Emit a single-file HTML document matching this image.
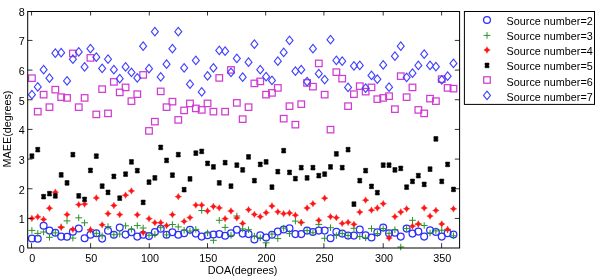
<!DOCTYPE html><html><head><meta charset="utf-8"><title>MAEE vs DOA</title>
<style>html,body{margin:0;padding:0;background:#fff}svg{display:block}text{font-family:"Liberation Sans",Arial,sans-serif;font-size:10.8px;fill:#000}</style></head><body>
<svg width="602" height="280" viewBox="0 0 602 280">
<rect width="602" height="280" fill="#fff"/>
<g><circle cx="31.90" cy="238.50" r="3.4" fill="none" stroke="#2c2cff" stroke-width="1.25"/><circle cx="37.75" cy="238.80" r="3.4" fill="none" stroke="#2c2cff" stroke-width="1.25"/><circle cx="43.61" cy="225.80" r="3.4" fill="none" stroke="#2c2cff" stroke-width="1.25"/><circle cx="49.47" cy="230.60" r="3.4" fill="none" stroke="#2c2cff" stroke-width="1.25"/><circle cx="55.32" cy="232.80" r="3.4" fill="none" stroke="#2c2cff" stroke-width="1.25"/><circle cx="61.17" cy="236.60" r="3.4" fill="none" stroke="#2c2cff" stroke-width="1.25"/><circle cx="67.03" cy="236.70" r="3.4" fill="none" stroke="#2c2cff" stroke-width="1.25"/><circle cx="72.88" cy="231.80" r="3.4" fill="none" stroke="#2c2cff" stroke-width="1.25"/><circle cx="78.74" cy="228.50" r="3.4" fill="none" stroke="#2c2cff" stroke-width="1.25"/><circle cx="84.59" cy="238.20" r="3.4" fill="none" stroke="#2c2cff" stroke-width="1.25"/><circle cx="90.45" cy="234.70" r="3.4" fill="none" stroke="#2c2cff" stroke-width="1.25"/><circle cx="96.31" cy="233.30" r="3.4" fill="none" stroke="#2c2cff" stroke-width="1.25"/><circle cx="102.16" cy="238.60" r="3.4" fill="none" stroke="#2c2cff" stroke-width="1.25"/><circle cx="108.02" cy="230.80" r="3.4" fill="none" stroke="#2c2cff" stroke-width="1.25"/><circle cx="113.87" cy="234.80" r="3.4" fill="none" stroke="#2c2cff" stroke-width="1.25"/><circle cx="119.72" cy="227.60" r="3.4" fill="none" stroke="#2c2cff" stroke-width="1.25"/><circle cx="125.58" cy="234.60" r="3.4" fill="none" stroke="#2c2cff" stroke-width="1.25"/><circle cx="131.44" cy="232.30" r="3.4" fill="none" stroke="#2c2cff" stroke-width="1.25"/><circle cx="137.29" cy="236.60" r="3.4" fill="none" stroke="#2c2cff" stroke-width="1.25"/><circle cx="143.15" cy="234.80" r="3.4" fill="none" stroke="#2c2cff" stroke-width="1.25"/><circle cx="149.00" cy="236.10" r="3.4" fill="none" stroke="#2c2cff" stroke-width="1.25"/><circle cx="154.86" cy="232.10" r="3.4" fill="none" stroke="#2c2cff" stroke-width="1.25"/><circle cx="160.71" cy="228.80" r="3.4" fill="none" stroke="#2c2cff" stroke-width="1.25"/><circle cx="166.57" cy="234.80" r="3.4" fill="none" stroke="#2c2cff" stroke-width="1.25"/><circle cx="172.42" cy="232.30" r="3.4" fill="none" stroke="#2c2cff" stroke-width="1.25"/><circle cx="178.28" cy="234.80" r="3.4" fill="none" stroke="#2c2cff" stroke-width="1.25"/><circle cx="184.13" cy="233.30" r="3.4" fill="none" stroke="#2c2cff" stroke-width="1.25"/><circle cx="189.99" cy="229.70" r="3.4" fill="none" stroke="#2c2cff" stroke-width="1.25"/><circle cx="195.84" cy="233.60" r="3.4" fill="none" stroke="#2c2cff" stroke-width="1.25"/><circle cx="201.70" cy="236.60" r="3.4" fill="none" stroke="#2c2cff" stroke-width="1.25"/><circle cx="207.55" cy="235.30" r="3.4" fill="none" stroke="#2c2cff" stroke-width="1.25"/><circle cx="213.41" cy="234.40" r="3.4" fill="none" stroke="#2c2cff" stroke-width="1.25"/><circle cx="219.26" cy="234.10" r="3.4" fill="none" stroke="#2c2cff" stroke-width="1.25"/><circle cx="225.12" cy="235.80" r="3.4" fill="none" stroke="#2c2cff" stroke-width="1.25"/><circle cx="230.97" cy="233.30" r="3.4" fill="none" stroke="#2c2cff" stroke-width="1.25"/><circle cx="236.83" cy="229.70" r="3.4" fill="none" stroke="#2c2cff" stroke-width="1.25"/><circle cx="242.68" cy="233.60" r="3.4" fill="none" stroke="#2c2cff" stroke-width="1.25"/><circle cx="248.54" cy="234.10" r="3.4" fill="none" stroke="#2c2cff" stroke-width="1.25"/><circle cx="254.39" cy="239.40" r="3.4" fill="none" stroke="#2c2cff" stroke-width="1.25"/><circle cx="260.25" cy="235.30" r="3.4" fill="none" stroke="#2c2cff" stroke-width="1.25"/><circle cx="266.10" cy="237.40" r="3.4" fill="none" stroke="#2c2cff" stroke-width="1.25"/><circle cx="271.95" cy="234.80" r="3.4" fill="none" stroke="#2c2cff" stroke-width="1.25"/><circle cx="277.81" cy="231.60" r="3.4" fill="none" stroke="#2c2cff" stroke-width="1.25"/><circle cx="283.67" cy="229.40" r="3.4" fill="none" stroke="#2c2cff" stroke-width="1.25"/><circle cx="289.52" cy="228.20" r="3.4" fill="none" stroke="#2c2cff" stroke-width="1.25"/><circle cx="295.38" cy="234.10" r="3.4" fill="none" stroke="#2c2cff" stroke-width="1.25"/><circle cx="301.23" cy="234.10" r="3.4" fill="none" stroke="#2c2cff" stroke-width="1.25"/><circle cx="307.08" cy="230.60" r="3.4" fill="none" stroke="#2c2cff" stroke-width="1.25"/><circle cx="312.94" cy="231.90" r="3.4" fill="none" stroke="#2c2cff" stroke-width="1.25"/><circle cx="318.80" cy="230.60" r="3.4" fill="none" stroke="#2c2cff" stroke-width="1.25"/><circle cx="324.65" cy="230.60" r="3.4" fill="none" stroke="#2c2cff" stroke-width="1.25"/><circle cx="330.50" cy="238.30" r="3.4" fill="none" stroke="#2c2cff" stroke-width="1.25"/><circle cx="336.36" cy="231.80" r="3.4" fill="none" stroke="#2c2cff" stroke-width="1.25"/><circle cx="342.21" cy="233.60" r="3.4" fill="none" stroke="#2c2cff" stroke-width="1.25"/><circle cx="348.07" cy="235.60" r="3.4" fill="none" stroke="#2c2cff" stroke-width="1.25"/><circle cx="353.93" cy="235.60" r="3.4" fill="none" stroke="#2c2cff" stroke-width="1.25"/><circle cx="359.78" cy="229.40" r="3.4" fill="none" stroke="#2c2cff" stroke-width="1.25"/><circle cx="365.63" cy="235.30" r="3.4" fill="none" stroke="#2c2cff" stroke-width="1.25"/><circle cx="371.49" cy="237.40" r="3.4" fill="none" stroke="#2c2cff" stroke-width="1.25"/><circle cx="377.35" cy="232.30" r="3.4" fill="none" stroke="#2c2cff" stroke-width="1.25"/><circle cx="383.20" cy="227.40" r="3.4" fill="none" stroke="#2c2cff" stroke-width="1.25"/><circle cx="389.06" cy="233.30" r="3.4" fill="none" stroke="#2c2cff" stroke-width="1.25"/><circle cx="394.91" cy="232.80" r="3.4" fill="none" stroke="#2c2cff" stroke-width="1.25"/><circle cx="400.76" cy="236.60" r="3.4" fill="none" stroke="#2c2cff" stroke-width="1.25"/><circle cx="406.62" cy="228.60" r="3.4" fill="none" stroke="#2c2cff" stroke-width="1.25"/><circle cx="412.48" cy="233.60" r="3.4" fill="none" stroke="#2c2cff" stroke-width="1.25"/><circle cx="418.33" cy="231.60" r="3.4" fill="none" stroke="#2c2cff" stroke-width="1.25"/><circle cx="424.19" cy="236.60" r="3.4" fill="none" stroke="#2c2cff" stroke-width="1.25"/><circle cx="430.04" cy="230.20" r="3.4" fill="none" stroke="#2c2cff" stroke-width="1.25"/><circle cx="435.89" cy="231.90" r="3.4" fill="none" stroke="#2c2cff" stroke-width="1.25"/><circle cx="441.75" cy="236.60" r="3.4" fill="none" stroke="#2c2cff" stroke-width="1.25"/><circle cx="447.61" cy="233.30" r="3.4" fill="none" stroke="#2c2cff" stroke-width="1.25"/><circle cx="453.46" cy="234.40" r="3.4" fill="none" stroke="#2c2cff" stroke-width="1.25"/></g>
<g><path d="M28.50 230.40H35.30M31.90 227.10V233.70" stroke="#2a922a" stroke-width="1.0" fill="none"/><path d="M34.35 233.40H41.15M37.75 230.10V236.70" stroke="#2a922a" stroke-width="1.0" fill="none"/><path d="M40.21 232.00H47.01M43.61 228.70V235.30" stroke="#2a922a" stroke-width="1.0" fill="none"/><path d="M46.07 237.30H52.87M49.47 234.00V240.60" stroke="#2a922a" stroke-width="1.0" fill="none"/><path d="M51.92 232.90H58.72M55.32 229.60V236.20" stroke="#2a922a" stroke-width="1.0" fill="none"/><path d="M57.77 226.90H64.58M61.17 223.60V230.20" stroke="#2a922a" stroke-width="1.0" fill="none"/><path d="M63.63 220.90H70.43M67.03 217.60V224.20" stroke="#2a922a" stroke-width="1.0" fill="none"/><path d="M69.48 238.10H76.28M72.88 234.80V241.40" stroke="#2a922a" stroke-width="1.0" fill="none"/><path d="M75.34 217.80H82.14M78.74 214.50V221.10" stroke="#2a922a" stroke-width="1.0" fill="none"/><path d="M81.19 222.80H88.00M84.59 219.50V226.10" stroke="#2a922a" stroke-width="1.0" fill="none"/><path d="M87.05 229.90H93.85M90.45 226.60V233.20" stroke="#2a922a" stroke-width="1.0" fill="none"/><path d="M92.91 233.30H99.71M96.31 230.00V236.60" stroke="#2a922a" stroke-width="1.0" fill="none"/><path d="M98.76 235.90H105.56M102.16 232.60V239.20" stroke="#2a922a" stroke-width="1.0" fill="none"/><path d="M104.62 226.60H111.42M108.02 223.30V229.90" stroke="#2a922a" stroke-width="1.0" fill="none"/><path d="M110.47 234.80H117.27M113.87 231.50V238.10" stroke="#2a922a" stroke-width="1.0" fill="none"/><path d="M116.32 234.10H123.12M119.72 230.80V237.40" stroke="#2a922a" stroke-width="1.0" fill="none"/><path d="M122.18 225.80H128.98M125.58 222.50V229.10" stroke="#2a922a" stroke-width="1.0" fill="none"/><path d="M128.03 229.30H134.84M131.44 226.00V232.60" stroke="#2a922a" stroke-width="1.0" fill="none"/><path d="M133.89 225.60H140.69M137.29 222.30V228.90" stroke="#2a922a" stroke-width="1.0" fill="none"/><path d="M139.75 228.00H146.55M143.15 224.70V231.30" stroke="#2a922a" stroke-width="1.0" fill="none"/><path d="M145.60 235.30H152.40M149.00 232.00V238.60" stroke="#2a922a" stroke-width="1.0" fill="none"/><path d="M151.46 234.40H158.26M154.86 231.10V237.70" stroke="#2a922a" stroke-width="1.0" fill="none"/><path d="M157.31 227.70H164.11M160.71 224.40V231.00" stroke="#2a922a" stroke-width="1.0" fill="none"/><path d="M163.17 234.90H169.97M166.57 231.60V238.20" stroke="#2a922a" stroke-width="1.0" fill="none"/><path d="M169.02 224.50H175.82M172.42 221.20V227.80" stroke="#2a922a" stroke-width="1.0" fill="none"/><path d="M174.88 226.90H181.68M178.28 223.60V230.20" stroke="#2a922a" stroke-width="1.0" fill="none"/><path d="M180.73 230.20H187.53M184.13 226.90V233.50" stroke="#2a922a" stroke-width="1.0" fill="none"/><path d="M186.59 231.10H193.39M189.99 227.80V234.40" stroke="#2a922a" stroke-width="1.0" fill="none"/><path d="M192.44 229.40H199.24M195.84 226.10V232.70" stroke="#2a922a" stroke-width="1.0" fill="none"/><path d="M198.30 210.50H205.10M201.70 207.20V213.80" stroke="#2a922a" stroke-width="1.0" fill="none"/><path d="M204.15 233.00H210.95M207.55 229.70V236.30" stroke="#2a922a" stroke-width="1.0" fill="none"/><path d="M210.01 240.30H216.81M213.41 237.00V243.60" stroke="#2a922a" stroke-width="1.0" fill="none"/><path d="M215.86 220.30H222.66M219.26 217.00V223.60" stroke="#2a922a" stroke-width="1.0" fill="none"/><path d="M221.72 227.40H228.52M225.12 224.10V230.70" stroke="#2a922a" stroke-width="1.0" fill="none"/><path d="M227.57 235.30H234.37M230.97 232.00V238.60" stroke="#2a922a" stroke-width="1.0" fill="none"/><path d="M233.43 216.00H240.23M236.83 212.70V219.30" stroke="#2a922a" stroke-width="1.0" fill="none"/><path d="M239.28 228.90H246.08M242.68 225.60V232.20" stroke="#2a922a" stroke-width="1.0" fill="none"/><path d="M245.14 229.70H251.94M248.54 226.40V233.00" stroke="#2a922a" stroke-width="1.0" fill="none"/><path d="M250.99 236.10H257.79M254.39 232.80V239.40" stroke="#2a922a" stroke-width="1.0" fill="none"/><path d="M256.85 237.80H263.64M260.25 234.50V241.10" stroke="#2a922a" stroke-width="1.0" fill="none"/><path d="M262.70 242.80H269.50M266.10 239.50V246.10" stroke="#2a922a" stroke-width="1.0" fill="none"/><path d="M268.56 234.10H275.35M271.95 230.80V237.40" stroke="#2a922a" stroke-width="1.0" fill="none"/><path d="M274.41 238.60H281.21M277.81 235.30V241.90" stroke="#2a922a" stroke-width="1.0" fill="none"/><path d="M280.27 228.10H287.06M283.67 224.80V231.40" stroke="#2a922a" stroke-width="1.0" fill="none"/><path d="M286.12 233.60H292.92M289.52 230.30V236.90" stroke="#2a922a" stroke-width="1.0" fill="none"/><path d="M291.98 221.10H298.77M295.38 217.80V224.40" stroke="#2a922a" stroke-width="1.0" fill="none"/><path d="M297.83 222.70H304.63M301.23 219.40V226.00" stroke="#2a922a" stroke-width="1.0" fill="none"/><path d="M303.69 230.60H310.48M307.08 227.30V233.90" stroke="#2a922a" stroke-width="1.0" fill="none"/><path d="M309.54 232.80H316.34M312.94 229.50V236.10" stroke="#2a922a" stroke-width="1.0" fill="none"/><path d="M315.40 224.40H322.19M318.80 221.10V227.70" stroke="#2a922a" stroke-width="1.0" fill="none"/><path d="M321.25 238.30H328.05M324.65 235.00V241.60" stroke="#2a922a" stroke-width="1.0" fill="none"/><path d="M327.11 227.70H333.90M330.50 224.40V231.00" stroke="#2a922a" stroke-width="1.0" fill="none"/><path d="M332.96 235.60H339.76M336.36 232.30V238.90" stroke="#2a922a" stroke-width="1.0" fill="none"/><path d="M338.81 233.60H345.61M342.21 230.30V236.90" stroke="#2a922a" stroke-width="1.0" fill="none"/><path d="M344.67 235.60H351.47M348.07 232.30V238.90" stroke="#2a922a" stroke-width="1.0" fill="none"/><path d="M350.53 228.30H357.32M353.93 225.00V231.60" stroke="#2a922a" stroke-width="1.0" fill="none"/><path d="M356.38 236.60H363.18M359.78 233.30V239.90" stroke="#2a922a" stroke-width="1.0" fill="none"/><path d="M362.24 237.80H369.03M365.63 234.50V241.10" stroke="#2a922a" stroke-width="1.0" fill="none"/><path d="M368.09 228.60H374.89M371.49 225.30V231.90" stroke="#2a922a" stroke-width="1.0" fill="none"/><path d="M373.95 233.60H380.75M377.35 230.30V236.90" stroke="#2a922a" stroke-width="1.0" fill="none"/><path d="M379.80 228.60H386.60M383.20 225.30V231.90" stroke="#2a922a" stroke-width="1.0" fill="none"/><path d="M385.66 233.30H392.45M389.06 230.00V236.60" stroke="#2a922a" stroke-width="1.0" fill="none"/><path d="M391.51 229.70H398.31M394.91 226.40V233.00" stroke="#2a922a" stroke-width="1.0" fill="none"/><path d="M397.37 247.00H404.16M400.76 243.70V250.30" stroke="#2a922a" stroke-width="1.0" fill="none"/><path d="M403.22 228.60H410.02M406.62 225.30V231.90" stroke="#2a922a" stroke-width="1.0" fill="none"/><path d="M409.08 220.30H415.88M412.48 217.00V223.60" stroke="#2a922a" stroke-width="1.0" fill="none"/><path d="M414.93 224.20H421.73M418.33 220.90V227.50" stroke="#2a922a" stroke-width="1.0" fill="none"/><path d="M420.79 225.50H427.58M424.19 222.20V228.80" stroke="#2a922a" stroke-width="1.0" fill="none"/><path d="M426.64 233.00H433.44M430.04 229.70V236.30" stroke="#2a922a" stroke-width="1.0" fill="none"/><path d="M432.50 230.90H439.29M435.89 227.60V234.20" stroke="#2a922a" stroke-width="1.0" fill="none"/><path d="M438.35 230.20H445.15M441.75 226.90V233.50" stroke="#2a922a" stroke-width="1.0" fill="none"/><path d="M444.21 229.80H451.00M447.61 226.50V233.10" stroke="#2a922a" stroke-width="1.0" fill="none"/><path d="M450.06 235.80H456.86M453.46 232.50V239.10" stroke="#2a922a" stroke-width="1.0" fill="none"/></g>
<g><polygon points="31.90,215.00 33.05,217.25 35.30,218.40 33.05,219.55 31.90,221.80 30.75,219.55 28.50,218.40 30.75,217.25" fill="#ff2626" stroke="#ff2626" stroke-width="0.3" stroke-linejoin="round"/><circle cx="31.90" cy="218.40" r="1.7" fill="#ff1414"/><polygon points="37.75,213.50 38.90,215.75 41.15,216.90 38.90,218.05 37.75,220.30 36.60,218.05 34.35,216.90 36.60,215.75" fill="#ff2626" stroke="#ff2626" stroke-width="0.3" stroke-linejoin="round"/><circle cx="37.75" cy="216.90" r="1.7" fill="#ff1414"/><polygon points="43.61,216.00 44.76,218.25 47.01,219.40 44.76,220.55 43.61,222.80 42.46,220.55 40.21,219.40 42.46,218.25" fill="#ff2626" stroke="#ff2626" stroke-width="0.3" stroke-linejoin="round"/><circle cx="43.61" cy="219.40" r="1.7" fill="#ff1414"/><polygon points="49.47,204.80 50.62,207.05 52.87,208.20 50.62,209.35 49.47,211.60 48.32,209.35 46.07,208.20 48.32,207.05" fill="#ff2626" stroke="#ff2626" stroke-width="0.3" stroke-linejoin="round"/><circle cx="49.47" cy="208.20" r="1.7" fill="#ff1414"/><polygon points="55.32,188.75 56.47,191.00 58.72,192.15 56.47,193.30 55.32,195.55 54.17,193.30 51.92,192.15 54.17,191.00" fill="#ff2626" stroke="#ff2626" stroke-width="0.3" stroke-linejoin="round"/><circle cx="55.32" cy="192.15" r="1.7" fill="#ff1414"/><polygon points="61.17,224.00 62.32,226.25 64.58,227.40 62.32,228.55 61.17,230.80 60.02,228.55 57.77,227.40 60.02,226.25" fill="#ff2626" stroke="#ff2626" stroke-width="0.3" stroke-linejoin="round"/><circle cx="61.17" cy="227.40" r="1.7" fill="#ff1414"/><polygon points="67.03,211.20 68.18,213.45 70.43,214.60 68.18,215.75 67.03,218.00 65.88,215.75 63.63,214.60 65.88,213.45" fill="#ff2626" stroke="#ff2626" stroke-width="0.3" stroke-linejoin="round"/><circle cx="67.03" cy="214.60" r="1.7" fill="#ff1414"/><polygon points="72.88,226.00 74.03,228.25 76.28,229.40 74.03,230.55 72.88,232.80 71.73,230.55 69.48,229.40 71.73,228.25" fill="#ff2626" stroke="#ff2626" stroke-width="0.3" stroke-linejoin="round"/><circle cx="72.88" cy="229.40" r="1.7" fill="#ff1414"/><polygon points="78.74,201.20 79.89,203.45 82.14,204.60 79.89,205.75 78.74,208.00 77.59,205.75 75.34,204.60 77.59,203.45" fill="#ff2626" stroke="#ff2626" stroke-width="0.3" stroke-linejoin="round"/><circle cx="78.74" cy="204.60" r="1.7" fill="#ff1414"/><polygon points="84.59,200.70 85.75,202.95 88.00,204.10 85.75,205.25 84.59,207.50 83.44,205.25 81.19,204.10 83.44,202.95" fill="#ff2626" stroke="#ff2626" stroke-width="0.3" stroke-linejoin="round"/><circle cx="84.59" cy="204.10" r="1.7" fill="#ff1414"/><polygon points="90.45,226.40 91.60,228.65 93.85,229.80 91.60,230.95 90.45,233.20 89.30,230.95 87.05,229.80 89.30,228.65" fill="#ff2626" stroke="#ff2626" stroke-width="0.3" stroke-linejoin="round"/><circle cx="90.45" cy="229.80" r="1.7" fill="#ff1414"/><polygon points="96.31,194.50 97.46,196.75 99.71,197.90 97.46,199.05 96.31,201.30 95.16,199.05 92.91,197.90 95.16,196.75" fill="#ff2626" stroke="#ff2626" stroke-width="0.3" stroke-linejoin="round"/><circle cx="96.31" cy="197.90" r="1.7" fill="#ff1414"/><polygon points="102.16,221.40 103.31,223.65 105.56,224.80 103.31,225.95 102.16,228.20 101.01,225.95 98.76,224.80 101.01,223.65" fill="#ff2626" stroke="#ff2626" stroke-width="0.3" stroke-linejoin="round"/><circle cx="102.16" cy="224.80" r="1.7" fill="#ff1414"/><polygon points="108.02,210.30 109.17,212.55 111.42,213.70 109.17,214.85 108.02,217.10 106.87,214.85 104.62,213.70 106.87,212.55" fill="#ff2626" stroke="#ff2626" stroke-width="0.3" stroke-linejoin="round"/><circle cx="108.02" cy="213.70" r="1.7" fill="#ff1414"/><polygon points="113.87,202.10 115.02,204.35 117.27,205.50 115.02,206.65 113.87,208.90 112.72,206.65 110.47,205.50 112.72,204.35" fill="#ff2626" stroke="#ff2626" stroke-width="0.3" stroke-linejoin="round"/><circle cx="113.87" cy="205.50" r="1.7" fill="#ff1414"/><polygon points="119.72,211.20 120.88,213.45 123.12,214.60 120.88,215.75 119.72,218.00 118.57,215.75 116.32,214.60 118.57,213.45" fill="#ff2626" stroke="#ff2626" stroke-width="0.3" stroke-linejoin="round"/><circle cx="119.72" cy="214.60" r="1.7" fill="#ff1414"/><polygon points="125.58,191.75 126.73,194.00 128.98,195.15 126.73,196.30 125.58,198.55 124.43,196.30 122.18,195.15 124.43,194.00" fill="#ff2626" stroke="#ff2626" stroke-width="0.3" stroke-linejoin="round"/><circle cx="125.58" cy="195.15" r="1.7" fill="#ff1414"/><polygon points="131.44,187.50 132.59,189.75 134.84,190.90 132.59,192.05 131.44,194.30 130.28,192.05 128.03,190.90 130.28,189.75" fill="#ff2626" stroke="#ff2626" stroke-width="0.3" stroke-linejoin="round"/><circle cx="131.44" cy="190.90" r="1.7" fill="#ff1414"/><polygon points="137.29,211.40 138.44,213.65 140.69,214.80 138.44,215.95 137.29,218.20 136.14,215.95 133.89,214.80 136.14,213.65" fill="#ff2626" stroke="#ff2626" stroke-width="0.3" stroke-linejoin="round"/><circle cx="137.29" cy="214.80" r="1.7" fill="#ff1414"/><polygon points="143.15,229.20 144.30,231.45 146.55,232.60 144.30,233.75 143.15,236.00 142.00,233.75 139.75,232.60 142.00,231.45" fill="#ff2626" stroke="#ff2626" stroke-width="0.3" stroke-linejoin="round"/><circle cx="143.15" cy="232.60" r="1.7" fill="#ff1414"/><polygon points="149.00,215.30 150.15,217.55 152.40,218.70 150.15,219.85 149.00,222.10 147.85,219.85 145.60,218.70 147.85,217.55" fill="#ff2626" stroke="#ff2626" stroke-width="0.3" stroke-linejoin="round"/><circle cx="149.00" cy="218.70" r="1.7" fill="#ff1414"/><polygon points="154.86,219.30 156.01,221.55 158.26,222.70 156.01,223.85 154.86,226.10 153.71,223.85 151.46,222.70 153.71,221.55" fill="#ff2626" stroke="#ff2626" stroke-width="0.3" stroke-linejoin="round"/><circle cx="154.86" cy="222.70" r="1.7" fill="#ff1414"/><polygon points="160.71,219.30 161.86,221.55 164.11,222.70 161.86,223.85 160.71,226.10 159.56,223.85 157.31,222.70 159.56,221.55" fill="#ff2626" stroke="#ff2626" stroke-width="0.3" stroke-linejoin="round"/><circle cx="160.71" cy="222.70" r="1.7" fill="#ff1414"/><polygon points="166.57,222.20 167.72,224.45 169.97,225.60 167.72,226.75 166.57,229.00 165.42,226.75 163.17,225.60 165.42,224.45" fill="#ff2626" stroke="#ff2626" stroke-width="0.3" stroke-linejoin="round"/><circle cx="166.57" cy="225.60" r="1.7" fill="#ff1414"/><polygon points="172.42,211.30 173.57,213.55 175.82,214.70 173.57,215.85 172.42,218.10 171.27,215.85 169.02,214.70 171.27,213.55" fill="#ff2626" stroke="#ff2626" stroke-width="0.3" stroke-linejoin="round"/><circle cx="172.42" cy="214.70" r="1.7" fill="#ff1414"/><polygon points="178.28,193.25 179.43,195.50 181.68,196.65 179.43,197.80 178.28,200.05 177.12,197.80 174.88,196.65 177.12,195.50" fill="#ff2626" stroke="#ff2626" stroke-width="0.3" stroke-linejoin="round"/><circle cx="178.28" cy="196.65" r="1.7" fill="#ff1414"/><polygon points="184.13,218.00 185.28,220.25 187.53,221.40 185.28,222.55 184.13,224.80 182.98,222.55 180.73,221.40 182.98,220.25" fill="#ff2626" stroke="#ff2626" stroke-width="0.3" stroke-linejoin="round"/><circle cx="184.13" cy="221.40" r="1.7" fill="#ff1414"/><polygon points="189.99,214.20 191.14,216.45 193.39,217.60 191.14,218.75 189.99,221.00 188.84,218.75 186.59,217.60 188.84,216.45" fill="#ff2626" stroke="#ff2626" stroke-width="0.3" stroke-linejoin="round"/><circle cx="189.99" cy="217.60" r="1.7" fill="#ff1414"/><polygon points="195.84,201.70 196.99,203.95 199.24,205.10 196.99,206.25 195.84,208.50 194.69,206.25 192.44,205.10 194.69,203.95" fill="#ff2626" stroke="#ff2626" stroke-width="0.3" stroke-linejoin="round"/><circle cx="195.84" cy="205.10" r="1.7" fill="#ff1414"/><polygon points="201.70,201.70 202.85,203.95 205.10,205.10 202.85,206.25 201.70,208.50 200.55,206.25 198.30,205.10 200.55,203.95" fill="#ff2626" stroke="#ff2626" stroke-width="0.3" stroke-linejoin="round"/><circle cx="201.70" cy="205.10" r="1.7" fill="#ff1414"/><polygon points="207.55,207.60 208.70,209.85 210.95,211.00 208.70,212.15 207.55,214.40 206.40,212.15 204.15,211.00 206.40,209.85" fill="#ff2626" stroke="#ff2626" stroke-width="0.3" stroke-linejoin="round"/><circle cx="207.55" cy="211.00" r="1.7" fill="#ff1414"/><polygon points="213.41,203.10 214.56,205.35 216.81,206.50 214.56,207.65 213.41,209.90 212.26,207.65 210.01,206.50 212.26,205.35" fill="#ff2626" stroke="#ff2626" stroke-width="0.3" stroke-linejoin="round"/><circle cx="213.41" cy="206.50" r="1.7" fill="#ff1414"/><polygon points="219.26,204.50 220.41,206.75 222.66,207.90 220.41,209.05 219.26,211.30 218.11,209.05 215.86,207.90 218.11,206.75" fill="#ff2626" stroke="#ff2626" stroke-width="0.3" stroke-linejoin="round"/><circle cx="219.26" cy="207.90" r="1.7" fill="#ff1414"/><polygon points="225.12,215.30 226.27,217.55 228.52,218.70 226.27,219.85 225.12,222.10 223.97,219.85 221.72,218.70 223.97,217.55" fill="#ff2626" stroke="#ff2626" stroke-width="0.3" stroke-linejoin="round"/><circle cx="225.12" cy="218.70" r="1.7" fill="#ff1414"/><polygon points="230.97,207.60 232.12,209.85 234.37,211.00 232.12,212.15 230.97,214.40 229.82,212.15 227.57,211.00 229.82,209.85" fill="#ff2626" stroke="#ff2626" stroke-width="0.3" stroke-linejoin="round"/><circle cx="230.97" cy="211.00" r="1.7" fill="#ff1414"/><polygon points="236.83,214.50 237.98,216.75 240.23,217.90 237.98,219.05 236.83,221.30 235.68,219.05 233.43,217.90 235.68,216.75" fill="#ff2626" stroke="#ff2626" stroke-width="0.3" stroke-linejoin="round"/><circle cx="236.83" cy="217.90" r="1.7" fill="#ff1414"/><polygon points="242.68,220.00 243.83,222.25 246.08,223.40 243.83,224.55 242.68,226.80 241.53,224.55 239.28,223.40 241.53,222.25" fill="#ff2626" stroke="#ff2626" stroke-width="0.3" stroke-linejoin="round"/><circle cx="242.68" cy="223.40" r="1.7" fill="#ff1414"/><polygon points="248.54,206.30 249.69,208.55 251.94,209.70 249.69,210.85 248.54,213.10 247.39,210.85 245.14,209.70 247.39,208.55" fill="#ff2626" stroke="#ff2626" stroke-width="0.3" stroke-linejoin="round"/><circle cx="248.54" cy="209.70" r="1.7" fill="#ff1414"/><polygon points="254.39,211.00 255.54,213.25 257.79,214.40 255.54,215.55 254.39,217.80 253.24,215.55 250.99,214.40 253.24,213.25" fill="#ff2626" stroke="#ff2626" stroke-width="0.3" stroke-linejoin="round"/><circle cx="254.39" cy="214.40" r="1.7" fill="#ff1414"/><polygon points="260.25,213.30 261.39,215.55 263.64,216.70 261.39,217.85 260.25,220.10 259.10,217.85 256.85,216.70 259.10,215.55" fill="#ff2626" stroke="#ff2626" stroke-width="0.3" stroke-linejoin="round"/><circle cx="260.25" cy="216.70" r="1.7" fill="#ff1414"/><polygon points="266.10,209.30 267.25,211.55 269.50,212.70 267.25,213.85 266.10,216.10 264.95,213.85 262.70,212.70 264.95,211.55" fill="#ff2626" stroke="#ff2626" stroke-width="0.3" stroke-linejoin="round"/><circle cx="266.10" cy="212.70" r="1.7" fill="#ff1414"/><polygon points="271.95,202.60 273.10,204.85 275.35,206.00 273.10,207.15 271.95,209.40 270.81,207.15 268.56,206.00 270.81,204.85" fill="#ff2626" stroke="#ff2626" stroke-width="0.3" stroke-linejoin="round"/><circle cx="271.95" cy="206.00" r="1.7" fill="#ff1414"/><polygon points="277.81,208.40 278.96,210.65 281.21,211.80 278.96,212.95 277.81,215.20 276.66,212.95 274.41,211.80 276.66,210.65" fill="#ff2626" stroke="#ff2626" stroke-width="0.3" stroke-linejoin="round"/><circle cx="277.81" cy="211.80" r="1.7" fill="#ff1414"/><polygon points="283.67,210.30 284.81,212.55 287.06,213.70 284.81,214.85 283.67,217.10 282.52,214.85 280.27,213.70 282.52,212.55" fill="#ff2626" stroke="#ff2626" stroke-width="0.3" stroke-linejoin="round"/><circle cx="283.67" cy="213.70" r="1.7" fill="#ff1414"/><polygon points="289.52,209.60 290.67,211.85 292.92,213.00 290.67,214.15 289.52,216.40 288.37,214.15 286.12,213.00 288.37,211.85" fill="#ff2626" stroke="#ff2626" stroke-width="0.3" stroke-linejoin="round"/><circle cx="289.52" cy="213.00" r="1.7" fill="#ff1414"/><polygon points="295.38,211.80 296.52,214.05 298.77,215.20 296.52,216.35 295.38,218.60 294.23,216.35 291.98,215.20 294.23,214.05" fill="#ff2626" stroke="#ff2626" stroke-width="0.3" stroke-linejoin="round"/><circle cx="295.38" cy="215.20" r="1.7" fill="#ff1414"/><polygon points="301.23,219.00 302.38,221.25 304.63,222.40 302.38,223.55 301.23,225.80 300.08,223.55 297.83,222.40 300.08,221.25" fill="#ff2626" stroke="#ff2626" stroke-width="0.3" stroke-linejoin="round"/><circle cx="301.23" cy="222.40" r="1.7" fill="#ff1414"/><polygon points="307.08,204.60 308.23,206.85 310.48,208.00 308.23,209.15 307.08,211.40 305.94,209.15 303.69,208.00 305.94,206.85" fill="#ff2626" stroke="#ff2626" stroke-width="0.3" stroke-linejoin="round"/><circle cx="307.08" cy="208.00" r="1.7" fill="#ff1414"/><polygon points="312.94,200.30 314.09,202.55 316.34,203.70 314.09,204.85 312.94,207.10 311.79,204.85 309.54,203.70 311.79,202.55" fill="#ff2626" stroke="#ff2626" stroke-width="0.3" stroke-linejoin="round"/><circle cx="312.94" cy="203.70" r="1.7" fill="#ff1414"/><polygon points="318.80,216.90 319.94,219.15 322.19,220.30 319.94,221.45 318.80,223.70 317.65,221.45 315.40,220.30 317.65,219.15" fill="#ff2626" stroke="#ff2626" stroke-width="0.3" stroke-linejoin="round"/><circle cx="318.80" cy="220.30" r="1.7" fill="#ff1414"/><polygon points="324.65,194.75 325.80,197.00 328.05,198.15 325.80,199.30 324.65,201.55 323.50,199.30 321.25,198.15 323.50,197.00" fill="#ff2626" stroke="#ff2626" stroke-width="0.3" stroke-linejoin="round"/><circle cx="324.65" cy="198.15" r="1.7" fill="#ff1414"/><polygon points="330.50,213.30 331.65,215.55 333.90,216.70 331.65,217.85 330.50,220.10 329.36,217.85 327.11,216.70 329.36,215.55" fill="#ff2626" stroke="#ff2626" stroke-width="0.3" stroke-linejoin="round"/><circle cx="330.50" cy="216.70" r="1.7" fill="#ff1414"/><polygon points="336.36,214.30 337.51,216.55 339.76,217.70 337.51,218.85 336.36,221.10 335.21,218.85 332.96,217.70 335.21,216.55" fill="#ff2626" stroke="#ff2626" stroke-width="0.3" stroke-linejoin="round"/><circle cx="336.36" cy="217.70" r="1.7" fill="#ff1414"/><polygon points="342.21,220.00 343.36,222.25 345.61,223.40 343.36,224.55 342.21,226.80 341.06,224.55 338.81,223.40 341.06,222.25" fill="#ff2626" stroke="#ff2626" stroke-width="0.3" stroke-linejoin="round"/><circle cx="342.21" cy="223.40" r="1.7" fill="#ff1414"/><polygon points="348.07,218.90 349.22,221.15 351.47,222.30 349.22,223.45 348.07,225.70 346.92,223.45 344.67,222.30 346.92,221.15" fill="#ff2626" stroke="#ff2626" stroke-width="0.3" stroke-linejoin="round"/><circle cx="348.07" cy="222.30" r="1.7" fill="#ff1414"/><polygon points="353.93,220.90 355.07,223.15 357.32,224.30 355.07,225.45 353.93,227.70 352.78,225.45 350.53,224.30 352.78,223.15" fill="#ff2626" stroke="#ff2626" stroke-width="0.3" stroke-linejoin="round"/><circle cx="353.93" cy="224.30" r="1.7" fill="#ff1414"/><polygon points="359.78,208.70 360.93,210.95 363.18,212.10 360.93,213.25 359.78,215.50 358.63,213.25 356.38,212.10 358.63,210.95" fill="#ff2626" stroke="#ff2626" stroke-width="0.3" stroke-linejoin="round"/><circle cx="359.78" cy="212.10" r="1.7" fill="#ff1414"/><polygon points="365.63,196.75 366.78,199.00 369.03,200.15 366.78,201.30 365.63,203.55 364.49,201.30 362.24,200.15 364.49,199.00" fill="#ff2626" stroke="#ff2626" stroke-width="0.3" stroke-linejoin="round"/><circle cx="365.63" cy="200.15" r="1.7" fill="#ff1414"/><polygon points="371.49,206.75 372.64,209.00 374.89,210.15 372.64,211.30 371.49,213.55 370.34,211.30 368.09,210.15 370.34,209.00" fill="#ff2626" stroke="#ff2626" stroke-width="0.3" stroke-linejoin="round"/><circle cx="371.49" cy="210.15" r="1.7" fill="#ff1414"/><polygon points="377.35,204.60 378.50,206.85 380.75,208.00 378.50,209.15 377.35,211.40 376.20,209.15 373.95,208.00 376.20,206.85" fill="#ff2626" stroke="#ff2626" stroke-width="0.3" stroke-linejoin="round"/><circle cx="377.35" cy="208.00" r="1.7" fill="#ff1414"/><polygon points="383.20,200.30 384.35,202.55 386.60,203.70 384.35,204.85 383.20,207.10 382.05,204.85 379.80,203.70 382.05,202.55" fill="#ff2626" stroke="#ff2626" stroke-width="0.3" stroke-linejoin="round"/><circle cx="383.20" cy="203.70" r="1.7" fill="#ff1414"/><polygon points="389.06,234.60 390.20,236.85 392.45,238.00 390.20,239.15 389.06,241.40 387.91,239.15 385.66,238.00 387.91,236.85" fill="#ff2626" stroke="#ff2626" stroke-width="0.3" stroke-linejoin="round"/><circle cx="389.06" cy="238.00" r="1.7" fill="#ff1414"/><polygon points="394.91,213.30 396.06,215.55 398.31,216.70 396.06,217.85 394.91,220.10 393.76,217.85 391.51,216.70 393.76,215.55" fill="#ff2626" stroke="#ff2626" stroke-width="0.3" stroke-linejoin="round"/><circle cx="394.91" cy="216.70" r="1.7" fill="#ff1414"/><polygon points="400.76,208.60 401.91,210.85 404.16,212.00 401.91,213.15 400.76,215.40 399.62,213.15 397.37,212.00 399.62,210.85" fill="#ff2626" stroke="#ff2626" stroke-width="0.3" stroke-linejoin="round"/><circle cx="400.76" cy="212.00" r="1.7" fill="#ff1414"/><polygon points="406.62,205.40 407.77,207.65 410.02,208.80 407.77,209.95 406.62,212.20 405.47,209.95 403.22,208.80 405.47,207.65" fill="#ff2626" stroke="#ff2626" stroke-width="0.3" stroke-linejoin="round"/><circle cx="406.62" cy="208.80" r="1.7" fill="#ff1414"/><polygon points="412.48,222.70 413.62,224.95 415.88,226.10 413.62,227.25 412.48,229.50 411.33,227.25 409.08,226.10 411.33,224.95" fill="#ff2626" stroke="#ff2626" stroke-width="0.3" stroke-linejoin="round"/><circle cx="412.48" cy="226.10" r="1.7" fill="#ff1414"/><polygon points="418.33,220.60 419.48,222.85 421.73,224.00 419.48,225.15 418.33,227.40 417.18,225.15 414.93,224.00 417.18,222.85" fill="#ff2626" stroke="#ff2626" stroke-width="0.3" stroke-linejoin="round"/><circle cx="418.33" cy="224.00" r="1.7" fill="#ff1414"/><polygon points="424.19,204.60 425.33,206.85 427.58,208.00 425.33,209.15 424.19,211.40 423.04,209.15 420.79,208.00 423.04,206.85" fill="#ff2626" stroke="#ff2626" stroke-width="0.3" stroke-linejoin="round"/><circle cx="424.19" cy="208.00" r="1.7" fill="#ff1414"/><polygon points="430.04,212.70 431.19,214.95 433.44,216.10 431.19,217.25 430.04,219.50 428.89,217.25 426.64,216.10 428.89,214.95" fill="#ff2626" stroke="#ff2626" stroke-width="0.3" stroke-linejoin="round"/><circle cx="430.04" cy="216.10" r="1.7" fill="#ff1414"/><polygon points="435.89,207.00 437.04,209.25 439.29,210.40 437.04,211.55 435.89,213.80 434.75,211.55 432.50,210.40 434.75,209.25" fill="#ff2626" stroke="#ff2626" stroke-width="0.3" stroke-linejoin="round"/><circle cx="435.89" cy="210.40" r="1.7" fill="#ff1414"/><polygon points="441.75,220.60 442.90,222.85 445.15,224.00 442.90,225.15 441.75,227.40 440.60,225.15 438.35,224.00 440.60,222.85" fill="#ff2626" stroke="#ff2626" stroke-width="0.3" stroke-linejoin="round"/><circle cx="441.75" cy="224.00" r="1.7" fill="#ff1414"/><polygon points="447.61,226.00 448.75,228.25 451.00,229.40 448.75,230.55 447.61,232.80 446.46,230.55 444.21,229.40 446.46,228.25" fill="#ff2626" stroke="#ff2626" stroke-width="0.3" stroke-linejoin="round"/><circle cx="447.61" cy="229.40" r="1.7" fill="#ff1414"/><polygon points="453.46,205.40 454.61,207.65 456.86,208.80 454.61,209.95 453.46,212.20 452.31,209.95 450.06,208.80 452.31,207.65" fill="#ff2626" stroke="#ff2626" stroke-width="0.3" stroke-linejoin="round"/><circle cx="453.46" cy="208.80" r="1.7" fill="#ff1414"/></g>
<g><polygon points="29.90,153.85 33.90,153.85 33.90,155.65 33.50,156.15 33.90,156.65 33.90,158.45 29.90,158.45 29.90,156.65 30.30,156.15 29.90,155.65" fill="#000" stroke="#000" stroke-width="0.6" stroke-linejoin="round"/><polygon points="35.75,147.35 39.75,147.35 39.75,149.15 39.35,149.65 39.75,150.15 39.75,151.95 35.75,151.95 35.75,150.15 36.15,149.65 35.75,149.15" fill="#000" stroke="#000" stroke-width="0.6" stroke-linejoin="round"/><polygon points="41.61,194.35 45.61,194.35 45.61,196.15 45.21,196.65 45.61,197.15 45.61,198.95 41.61,198.95 41.61,197.15 42.01,196.65 41.61,196.15" fill="#000" stroke="#000" stroke-width="0.6" stroke-linejoin="round"/><polygon points="47.47,191.35 51.47,191.35 51.47,193.15 51.07,193.65 51.47,194.15 51.47,195.95 47.47,195.95 47.47,194.15 47.87,193.65 47.47,193.15" fill="#000" stroke="#000" stroke-width="0.6" stroke-linejoin="round"/><polygon points="53.32,193.60 57.32,193.60 57.32,195.40 56.92,195.90 57.32,196.40 57.32,198.20 53.32,198.20 53.32,196.40 53.72,195.90 53.32,195.40" fill="#000" stroke="#000" stroke-width="0.6" stroke-linejoin="round"/><polygon points="59.17,172.60 63.17,172.60 63.17,174.40 62.77,174.90 63.17,175.40 63.17,177.20 59.17,177.20 59.17,175.40 59.57,174.90 59.17,174.40" fill="#000" stroke="#000" stroke-width="0.6" stroke-linejoin="round"/><polygon points="65.03,180.60 69.03,180.60 69.03,182.40 68.63,182.90 69.03,183.40 69.03,185.20 65.03,185.20 65.03,183.40 65.43,182.90 65.03,182.40" fill="#000" stroke="#000" stroke-width="0.6" stroke-linejoin="round"/><polygon points="70.88,152.35 74.88,152.35 74.88,154.15 74.48,154.65 74.88,155.15 74.88,156.95 70.88,156.95 70.88,155.15 71.28,154.65 70.88,154.15" fill="#000" stroke="#000" stroke-width="0.6" stroke-linejoin="round"/><polygon points="76.74,193.60 80.74,193.60 80.74,195.40 80.34,195.90 80.74,196.40 80.74,198.20 76.74,198.20 76.74,196.40 77.14,195.90 76.74,195.40" fill="#000" stroke="#000" stroke-width="0.6" stroke-linejoin="round"/><polygon points="82.59,197.10 86.59,197.10 86.59,198.90 86.19,199.40 86.59,199.90 86.59,201.70 82.59,201.70 82.59,199.90 83.00,199.40 82.59,198.90" fill="#000" stroke="#000" stroke-width="0.6" stroke-linejoin="round"/><polygon points="88.45,168.10 92.45,168.10 92.45,169.90 92.05,170.40 92.45,170.90 92.45,172.70 88.45,172.70 88.45,170.90 88.85,170.40 88.45,169.90" fill="#000" stroke="#000" stroke-width="0.6" stroke-linejoin="round"/><polygon points="94.31,153.85 98.31,153.85 98.31,155.65 97.91,156.15 98.31,156.65 98.31,158.45 94.31,158.45 94.31,156.65 94.71,156.15 94.31,155.65" fill="#000" stroke="#000" stroke-width="0.6" stroke-linejoin="round"/><polygon points="100.16,183.85 104.16,183.85 104.16,185.65 103.76,186.15 104.16,186.65 104.16,188.45 100.16,188.45 100.16,186.65 100.56,186.15 100.16,185.65" fill="#000" stroke="#000" stroke-width="0.6" stroke-linejoin="round"/><polygon points="106.02,190.10 110.02,190.10 110.02,191.90 109.62,192.40 110.02,192.90 110.02,194.70 106.02,194.70 106.02,192.90 106.42,192.40 106.02,191.90" fill="#000" stroke="#000" stroke-width="0.6" stroke-linejoin="round"/><polygon points="111.87,174.10 115.87,174.10 115.87,175.90 115.47,176.40 115.87,176.90 115.87,178.70 111.87,178.70 111.87,176.90 112.27,176.40 111.87,175.90" fill="#000" stroke="#000" stroke-width="0.6" stroke-linejoin="round"/><polygon points="117.72,195.85 121.72,195.85 121.72,197.65 121.32,198.15 121.72,198.65 121.72,200.45 117.72,200.45 117.72,198.65 118.12,198.15 117.72,197.65" fill="#000" stroke="#000" stroke-width="0.6" stroke-linejoin="round"/><polygon points="123.58,171.85 127.58,171.85 127.58,173.65 127.18,174.15 127.58,174.65 127.58,176.45 123.58,176.45 123.58,174.65 123.98,174.15 123.58,173.65" fill="#000" stroke="#000" stroke-width="0.6" stroke-linejoin="round"/><polygon points="129.44,159.60 133.44,159.60 133.44,161.40 133.03,161.90 133.44,162.40 133.44,164.20 129.44,164.20 129.44,162.40 129.84,161.90 129.44,161.40" fill="#000" stroke="#000" stroke-width="0.6" stroke-linejoin="round"/><polygon points="135.29,168.35 139.29,168.35 139.29,170.15 138.89,170.65 139.29,171.15 139.29,172.95 135.29,172.95 135.29,171.15 135.69,170.65 135.29,170.15" fill="#000" stroke="#000" stroke-width="0.6" stroke-linejoin="round"/><polygon points="141.15,200.10 145.15,200.10 145.15,201.90 144.75,202.40 145.15,202.90 145.15,204.70 141.15,204.70 141.15,202.90 141.55,202.40 141.15,201.90" fill="#000" stroke="#000" stroke-width="0.6" stroke-linejoin="round"/><polygon points="147.00,179.85 151.00,179.85 151.00,181.65 150.60,182.15 151.00,182.65 151.00,184.45 147.00,184.45 147.00,182.65 147.40,182.15 147.00,181.65" fill="#000" stroke="#000" stroke-width="0.6" stroke-linejoin="round"/><polygon points="152.86,175.60 156.86,175.60 156.86,177.40 156.46,177.90 156.86,178.40 156.86,180.20 152.86,180.20 152.86,178.40 153.26,177.90 152.86,177.40" fill="#000" stroke="#000" stroke-width="0.6" stroke-linejoin="round"/><polygon points="158.71,145.10 162.71,145.10 162.71,146.90 162.31,147.40 162.71,147.90 162.71,149.70 158.71,149.70 158.71,147.90 159.11,147.40 158.71,146.90" fill="#000" stroke="#000" stroke-width="0.6" stroke-linejoin="round"/><polygon points="164.57,158.10 168.57,158.10 168.57,159.90 168.17,160.40 168.57,160.90 168.57,162.70 164.57,162.70 164.57,160.90 164.97,160.40 164.57,159.90" fill="#000" stroke="#000" stroke-width="0.6" stroke-linejoin="round"/><polygon points="170.42,172.85 174.42,172.85 174.42,174.65 174.02,175.15 174.42,175.65 174.42,177.45 170.42,177.45 170.42,175.65 170.82,175.15 170.42,174.65" fill="#000" stroke="#000" stroke-width="0.6" stroke-linejoin="round"/><polygon points="176.28,152.35 180.28,152.35 180.28,154.15 179.88,154.65 180.28,155.15 180.28,156.95 176.28,156.95 176.28,155.15 176.68,154.65 176.28,154.15" fill="#000" stroke="#000" stroke-width="0.6" stroke-linejoin="round"/><polygon points="182.13,187.35 186.13,187.35 186.13,189.15 185.73,189.65 186.13,190.15 186.13,191.95 182.13,191.95 182.13,190.15 182.53,189.65 182.13,189.15" fill="#000" stroke="#000" stroke-width="0.6" stroke-linejoin="round"/><polygon points="187.99,176.60 191.99,176.60 191.99,178.40 191.59,178.90 191.99,179.40 191.99,181.20 187.99,181.20 187.99,179.40 188.39,178.90 187.99,178.40" fill="#000" stroke="#000" stroke-width="0.6" stroke-linejoin="round"/><polygon points="193.84,150.85 197.84,150.85 197.84,152.65 197.44,153.15 197.84,153.65 197.84,155.45 193.84,155.45 193.84,153.65 194.24,153.15 193.84,152.65" fill="#000" stroke="#000" stroke-width="0.6" stroke-linejoin="round"/><polygon points="199.70,149.10 203.70,149.10 203.70,150.90 203.30,151.40 203.70,151.90 203.70,153.70 199.70,153.70 199.70,151.90 200.10,151.40 199.70,150.90" fill="#000" stroke="#000" stroke-width="0.6" stroke-linejoin="round"/><polygon points="205.55,161.10 209.55,161.10 209.55,162.90 209.15,163.40 209.55,163.90 209.55,165.70 205.55,165.70 205.55,163.90 205.95,163.40 205.55,162.90" fill="#000" stroke="#000" stroke-width="0.6" stroke-linejoin="round"/><polygon points="211.41,164.60 215.41,164.60 215.41,166.40 215.01,166.90 215.41,167.40 215.41,169.20 211.41,169.20 211.41,167.40 211.81,166.90 211.41,166.40" fill="#000" stroke="#000" stroke-width="0.6" stroke-linejoin="round"/><polygon points="217.26,180.60 221.26,180.60 221.26,182.40 220.86,182.90 221.26,183.40 221.26,185.20 217.26,185.20 217.26,183.40 217.66,182.90 217.26,182.40" fill="#000" stroke="#000" stroke-width="0.6" stroke-linejoin="round"/><polygon points="223.12,160.35 227.12,160.35 227.12,162.15 226.72,162.65 227.12,163.15 227.12,164.95 223.12,164.95 223.12,163.15 223.52,162.65 223.12,162.15" fill="#000" stroke="#000" stroke-width="0.6" stroke-linejoin="round"/><polygon points="228.97,183.85 232.97,183.85 232.97,185.65 232.57,186.15 232.97,186.65 232.97,188.45 228.97,188.45 228.97,186.65 229.37,186.15 228.97,185.65" fill="#000" stroke="#000" stroke-width="0.6" stroke-linejoin="round"/><polygon points="234.83,162.85 238.83,162.85 238.83,164.65 238.43,165.15 238.83,165.65 238.83,167.45 234.83,167.45 234.83,165.65 235.23,165.15 234.83,164.65" fill="#000" stroke="#000" stroke-width="0.6" stroke-linejoin="round"/><polygon points="240.68,167.60 244.68,167.60 244.68,169.40 244.28,169.90 244.68,170.40 244.68,172.20 240.68,172.20 240.68,170.40 241.08,169.90 240.68,169.40" fill="#000" stroke="#000" stroke-width="0.6" stroke-linejoin="round"/><polygon points="246.54,154.60 250.54,154.60 250.54,156.40 250.14,156.90 250.54,157.40 250.54,159.20 246.54,159.20 246.54,157.40 246.94,156.90 246.54,156.40" fill="#000" stroke="#000" stroke-width="0.6" stroke-linejoin="round"/><polygon points="252.39,178.35 256.39,178.35 256.39,180.15 255.99,180.65 256.39,181.15 256.39,182.95 252.39,182.95 252.39,181.15 252.79,180.65 252.39,180.15" fill="#000" stroke="#000" stroke-width="0.6" stroke-linejoin="round"/><polygon points="258.25,162.10 262.25,162.10 262.25,163.90 261.85,164.40 262.25,164.90 262.25,166.70 258.25,166.70 258.25,164.90 258.64,164.40 258.25,163.90" fill="#000" stroke="#000" stroke-width="0.6" stroke-linejoin="round"/><polygon points="264.10,159.60 268.10,159.60 268.10,161.40 267.70,161.90 268.10,162.40 268.10,164.20 264.10,164.20 264.10,162.40 264.50,161.90 264.10,161.40" fill="#000" stroke="#000" stroke-width="0.6" stroke-linejoin="round"/><polygon points="269.95,184.85 273.95,184.85 273.95,186.65 273.56,187.15 273.95,187.65 273.95,189.45 269.95,189.45 269.95,187.65 270.35,187.15 269.95,186.65" fill="#000" stroke="#000" stroke-width="0.6" stroke-linejoin="round"/><polygon points="275.81,169.35 279.81,169.35 279.81,171.15 279.41,171.65 279.81,172.15 279.81,173.95 275.81,173.95 275.81,172.15 276.21,171.65 275.81,171.15" fill="#000" stroke="#000" stroke-width="0.6" stroke-linejoin="round"/><polygon points="281.67,148.35 285.67,148.35 285.67,150.15 285.27,150.65 285.67,151.15 285.67,152.95 281.67,152.95 281.67,151.15 282.06,150.65 281.67,150.15" fill="#000" stroke="#000" stroke-width="0.6" stroke-linejoin="round"/><polygon points="287.52,170.10 291.52,170.10 291.52,171.90 291.12,172.40 291.52,172.90 291.52,174.70 287.52,174.70 287.52,172.90 287.92,172.40 287.52,171.90" fill="#000" stroke="#000" stroke-width="0.6" stroke-linejoin="round"/><polygon points="293.38,176.35 297.38,176.35 297.38,178.15 296.98,178.65 297.38,179.15 297.38,180.95 293.38,180.95 293.38,179.15 293.77,178.65 293.38,178.15" fill="#000" stroke="#000" stroke-width="0.6" stroke-linejoin="round"/><polygon points="299.23,165.35 303.23,165.35 303.23,167.15 302.83,167.65 303.23,168.15 303.23,169.95 299.23,169.95 299.23,168.15 299.63,167.65 299.23,167.15" fill="#000" stroke="#000" stroke-width="0.6" stroke-linejoin="round"/><polygon points="305.08,175.60 309.08,175.60 309.08,177.40 308.69,177.90 309.08,178.40 309.08,180.20 305.08,180.20 305.08,178.40 305.48,177.90 305.08,177.40" fill="#000" stroke="#000" stroke-width="0.6" stroke-linejoin="round"/><polygon points="310.94,165.35 314.94,165.35 314.94,167.15 314.54,167.65 314.94,168.15 314.94,169.95 310.94,169.95 310.94,168.15 311.34,167.65 310.94,167.15" fill="#000" stroke="#000" stroke-width="0.6" stroke-linejoin="round"/><polygon points="316.80,173.35 320.80,173.35 320.80,175.15 320.40,175.65 320.80,176.15 320.80,177.95 316.80,177.95 316.80,176.15 317.19,175.65 316.80,175.15" fill="#000" stroke="#000" stroke-width="0.6" stroke-linejoin="round"/><polygon points="322.65,171.85 326.65,171.85 326.65,173.65 326.25,174.15 326.65,174.65 326.65,176.45 322.65,176.45 322.65,174.65 323.05,174.15 322.65,173.65" fill="#000" stroke="#000" stroke-width="0.6" stroke-linejoin="round"/><polygon points="328.50,164.60 332.50,164.60 332.50,166.40 332.11,166.90 332.50,167.40 332.50,169.20 328.50,169.20 328.50,167.40 328.90,166.90 328.50,166.40" fill="#000" stroke="#000" stroke-width="0.6" stroke-linejoin="round"/><polygon points="334.36,151.60 338.36,151.60 338.36,153.40 337.96,153.90 338.36,154.40 338.36,156.20 334.36,156.20 334.36,154.40 334.76,153.90 334.36,153.40" fill="#000" stroke="#000" stroke-width="0.6" stroke-linejoin="round"/><polygon points="340.21,165.35 344.21,165.35 344.21,167.15 343.81,167.65 344.21,168.15 344.21,169.95 340.21,169.95 340.21,168.15 340.61,167.65 340.21,167.15" fill="#000" stroke="#000" stroke-width="0.6" stroke-linejoin="round"/><polygon points="346.07,147.35 350.07,147.35 350.07,149.15 349.67,149.65 350.07,150.15 350.07,151.95 346.07,151.95 346.07,150.15 346.47,149.65 346.07,149.15" fill="#000" stroke="#000" stroke-width="0.6" stroke-linejoin="round"/><polygon points="351.93,201.85 355.93,201.85 355.93,203.65 355.53,204.15 355.93,204.65 355.93,206.45 351.93,206.45 351.93,204.65 352.32,204.15 351.93,203.65" fill="#000" stroke="#000" stroke-width="0.6" stroke-linejoin="round"/><polygon points="357.78,178.35 361.78,178.35 361.78,180.15 361.38,180.65 361.78,181.15 361.78,182.95 357.78,182.95 357.78,181.15 358.18,180.65 357.78,180.15" fill="#000" stroke="#000" stroke-width="0.6" stroke-linejoin="round"/><polygon points="363.63,168.35 367.63,168.35 367.63,170.15 367.24,170.65 367.63,171.15 367.63,172.95 363.63,172.95 363.63,171.15 364.03,170.65 363.63,170.15" fill="#000" stroke="#000" stroke-width="0.6" stroke-linejoin="round"/><polygon points="369.49,184.10 373.49,184.10 373.49,185.90 373.09,186.40 373.49,186.90 373.49,188.70 369.49,188.70 369.49,186.90 369.89,186.40 369.49,185.90" fill="#000" stroke="#000" stroke-width="0.6" stroke-linejoin="round"/><polygon points="375.35,190.35 379.35,190.35 379.35,192.15 378.95,192.65 379.35,193.15 379.35,194.95 375.35,194.95 375.35,193.15 375.75,192.65 375.35,192.15" fill="#000" stroke="#000" stroke-width="0.6" stroke-linejoin="round"/><polygon points="381.20,162.85 385.20,162.85 385.20,164.65 384.80,165.15 385.20,165.65 385.20,167.45 381.20,167.45 381.20,165.65 381.60,165.15 381.20,164.65" fill="#000" stroke="#000" stroke-width="0.6" stroke-linejoin="round"/><polygon points="387.06,162.85 391.06,162.85 391.06,164.65 390.66,165.15 391.06,165.65 391.06,167.45 387.06,167.45 387.06,165.65 387.45,165.15 387.06,164.65" fill="#000" stroke="#000" stroke-width="0.6" stroke-linejoin="round"/><polygon points="392.91,167.60 396.91,167.60 396.91,169.40 396.51,169.90 396.91,170.40 396.91,172.20 392.91,172.20 392.91,170.40 393.31,169.90 392.91,169.40" fill="#000" stroke="#000" stroke-width="0.6" stroke-linejoin="round"/><polygon points="398.76,166.10 402.76,166.10 402.76,167.90 402.37,168.40 402.76,168.90 402.76,170.70 398.76,170.70 398.76,168.90 399.16,168.40 398.76,167.90" fill="#000" stroke="#000" stroke-width="0.6" stroke-linejoin="round"/><polygon points="404.62,184.85 408.62,184.85 408.62,186.65 408.22,187.15 408.62,187.65 408.62,189.45 404.62,189.45 404.62,187.65 405.02,187.15 404.62,186.65" fill="#000" stroke="#000" stroke-width="0.6" stroke-linejoin="round"/><polygon points="410.48,179.10 414.48,179.10 414.48,180.90 414.08,181.40 414.48,181.90 414.48,183.70 410.48,183.70 410.48,181.90 410.88,181.40 410.48,180.90" fill="#000" stroke="#000" stroke-width="0.6" stroke-linejoin="round"/><polygon points="416.33,173.35 420.33,173.35 420.33,175.15 419.93,175.65 420.33,176.15 420.33,177.95 416.33,177.95 416.33,176.15 416.73,175.65 416.33,175.15" fill="#000" stroke="#000" stroke-width="0.6" stroke-linejoin="round"/><polygon points="422.19,182.10 426.19,182.10 426.19,183.90 425.79,184.40 426.19,184.90 426.19,186.70 422.19,186.70 422.19,184.90 422.58,184.40 422.19,183.90" fill="#000" stroke="#000" stroke-width="0.6" stroke-linejoin="round"/><polygon points="428.04,166.85 432.04,166.85 432.04,168.65 431.64,169.15 432.04,169.65 432.04,171.45 428.04,171.45 428.04,169.65 428.44,169.15 428.04,168.65" fill="#000" stroke="#000" stroke-width="0.6" stroke-linejoin="round"/><polygon points="433.89,136.60 437.89,136.60 437.89,138.40 437.50,138.90 437.89,139.40 437.89,141.20 433.89,141.20 433.89,139.40 434.29,138.90 433.89,138.40" fill="#000" stroke="#000" stroke-width="0.6" stroke-linejoin="round"/><polygon points="439.75,179.10 443.75,179.10 443.75,180.90 443.35,181.40 443.75,181.90 443.75,183.70 439.75,183.70 439.75,181.90 440.15,181.40 439.75,180.90" fill="#000" stroke="#000" stroke-width="0.6" stroke-linejoin="round"/><polygon points="445.61,162.10 449.61,162.10 449.61,163.90 449.21,164.40 449.61,164.90 449.61,166.70 445.61,166.70 445.61,164.90 446.00,164.40 445.61,163.90" fill="#000" stroke="#000" stroke-width="0.6" stroke-linejoin="round"/><polygon points="451.46,187.10 455.46,187.10 455.46,188.90 455.06,189.40 455.46,189.90 455.46,191.70 451.46,191.70 451.46,189.90 451.86,189.40 451.46,188.90" fill="#000" stroke="#000" stroke-width="0.6" stroke-linejoin="round"/></g>
<g><rect x="28.60" y="74.95" width="6.6" height="6.4" fill="none" stroke="#d03cd0" stroke-width="1.25"/><rect x="34.45" y="108.45" width="6.6" height="6.4" fill="none" stroke="#d03cd0" stroke-width="1.25"/><rect x="40.31" y="91.45" width="6.6" height="6.4" fill="none" stroke="#d03cd0" stroke-width="1.25"/><rect x="46.17" y="103.95" width="6.6" height="6.4" fill="none" stroke="#d03cd0" stroke-width="1.25"/><rect x="52.02" y="86.45" width="6.6" height="6.4" fill="none" stroke="#d03cd0" stroke-width="1.25"/><rect x="57.88" y="93.95" width="6.6" height="6.4" fill="none" stroke="#d03cd0" stroke-width="1.25"/><rect x="63.73" y="94.70" width="6.6" height="6.4" fill="none" stroke="#d03cd0" stroke-width="1.25"/><rect x="69.58" y="50.20" width="6.6" height="6.4" fill="none" stroke="#d03cd0" stroke-width="1.25"/><rect x="75.44" y="103.95" width="6.6" height="6.4" fill="none" stroke="#d03cd0" stroke-width="1.25"/><rect x="81.30" y="94.70" width="6.6" height="6.4" fill="none" stroke="#d03cd0" stroke-width="1.25"/><rect x="87.15" y="54.70" width="6.6" height="6.4" fill="none" stroke="#d03cd0" stroke-width="1.25"/><rect x="93.01" y="111.20" width="6.6" height="6.4" fill="none" stroke="#d03cd0" stroke-width="1.25"/><rect x="98.86" y="85.95" width="6.6" height="6.4" fill="none" stroke="#d03cd0" stroke-width="1.25"/><rect x="104.72" y="110.20" width="6.6" height="6.4" fill="none" stroke="#d03cd0" stroke-width="1.25"/><rect x="110.57" y="78.70" width="6.6" height="6.4" fill="none" stroke="#d03cd0" stroke-width="1.25"/><rect x="116.42" y="89.20" width="6.6" height="6.4" fill="none" stroke="#d03cd0" stroke-width="1.25"/><rect x="122.28" y="84.20" width="6.6" height="6.4" fill="none" stroke="#d03cd0" stroke-width="1.25"/><rect x="128.13" y="97.95" width="6.6" height="6.4" fill="none" stroke="#d03cd0" stroke-width="1.25"/><rect x="133.99" y="90.95" width="6.6" height="6.4" fill="none" stroke="#d03cd0" stroke-width="1.25"/><rect x="139.84" y="71.70" width="6.6" height="6.4" fill="none" stroke="#d03cd0" stroke-width="1.25"/><rect x="145.70" y="127.70" width="6.6" height="6.4" fill="none" stroke="#d03cd0" stroke-width="1.25"/><rect x="151.56" y="118.45" width="6.6" height="6.4" fill="none" stroke="#d03cd0" stroke-width="1.25"/><rect x="157.41" y="88.20" width="6.6" height="6.4" fill="none" stroke="#d03cd0" stroke-width="1.25"/><rect x="163.27" y="103.95" width="6.6" height="6.4" fill="none" stroke="#d03cd0" stroke-width="1.25"/><rect x="169.12" y="98.45" width="6.6" height="6.4" fill="none" stroke="#d03cd0" stroke-width="1.25"/><rect x="174.97" y="116.70" width="6.6" height="6.4" fill="none" stroke="#d03cd0" stroke-width="1.25"/><rect x="180.83" y="107.20" width="6.6" height="6.4" fill="none" stroke="#d03cd0" stroke-width="1.25"/><rect x="186.69" y="100.20" width="6.6" height="6.4" fill="none" stroke="#d03cd0" stroke-width="1.25"/><rect x="192.54" y="105.20" width="6.6" height="6.4" fill="none" stroke="#d03cd0" stroke-width="1.25"/><rect x="198.40" y="106.70" width="6.6" height="6.4" fill="none" stroke="#d03cd0" stroke-width="1.25"/><rect x="204.25" y="100.20" width="6.6" height="6.4" fill="none" stroke="#d03cd0" stroke-width="1.25"/><rect x="210.11" y="108.45" width="6.6" height="6.4" fill="none" stroke="#d03cd0" stroke-width="1.25"/><rect x="215.96" y="74.70" width="6.6" height="6.4" fill="none" stroke="#d03cd0" stroke-width="1.25"/><rect x="221.81" y="108.45" width="6.6" height="6.4" fill="none" stroke="#d03cd0" stroke-width="1.25"/><rect x="227.67" y="66.70" width="6.6" height="6.4" fill="none" stroke="#d03cd0" stroke-width="1.25"/><rect x="233.53" y="99.70" width="6.6" height="6.4" fill="none" stroke="#d03cd0" stroke-width="1.25"/><rect x="239.38" y="115.95" width="6.6" height="6.4" fill="none" stroke="#d03cd0" stroke-width="1.25"/><rect x="245.24" y="103.95" width="6.6" height="6.4" fill="none" stroke="#d03cd0" stroke-width="1.25"/><rect x="251.09" y="80.20" width="6.6" height="6.4" fill="none" stroke="#d03cd0" stroke-width="1.25"/><rect x="256.94" y="78.20" width="6.6" height="6.4" fill="none" stroke="#d03cd0" stroke-width="1.25"/><rect x="262.80" y="91.45" width="6.6" height="6.4" fill="none" stroke="#d03cd0" stroke-width="1.25"/><rect x="268.65" y="89.70" width="6.6" height="6.4" fill="none" stroke="#d03cd0" stroke-width="1.25"/><rect x="274.51" y="84.70" width="6.6" height="6.4" fill="none" stroke="#d03cd0" stroke-width="1.25"/><rect x="280.37" y="115.45" width="6.6" height="6.4" fill="none" stroke="#d03cd0" stroke-width="1.25"/><rect x="286.22" y="102.95" width="6.6" height="6.4" fill="none" stroke="#d03cd0" stroke-width="1.25"/><rect x="292.07" y="121.45" width="6.6" height="6.4" fill="none" stroke="#d03cd0" stroke-width="1.25"/><rect x="297.93" y="100.95" width="6.6" height="6.4" fill="none" stroke="#d03cd0" stroke-width="1.25"/><rect x="303.78" y="79.70" width="6.6" height="6.4" fill="none" stroke="#d03cd0" stroke-width="1.25"/><rect x="309.64" y="83.45" width="6.6" height="6.4" fill="none" stroke="#d03cd0" stroke-width="1.25"/><rect x="315.50" y="60.20" width="6.6" height="6.4" fill="none" stroke="#d03cd0" stroke-width="1.25"/><rect x="321.35" y="91.45" width="6.6" height="6.4" fill="none" stroke="#d03cd0" stroke-width="1.25"/><rect x="327.20" y="126.45" width="6.6" height="6.4" fill="none" stroke="#d03cd0" stroke-width="1.25"/><rect x="333.06" y="68.95" width="6.6" height="6.4" fill="none" stroke="#d03cd0" stroke-width="1.25"/><rect x="338.91" y="75.45" width="6.6" height="6.4" fill="none" stroke="#d03cd0" stroke-width="1.25"/><rect x="344.77" y="102.95" width="6.6" height="6.4" fill="none" stroke="#d03cd0" stroke-width="1.25"/><rect x="350.62" y="90.95" width="6.6" height="6.4" fill="none" stroke="#d03cd0" stroke-width="1.25"/><rect x="356.48" y="82.95" width="6.6" height="6.4" fill="none" stroke="#d03cd0" stroke-width="1.25"/><rect x="362.33" y="88.45" width="6.6" height="6.4" fill="none" stroke="#d03cd0" stroke-width="1.25"/><rect x="368.19" y="84.20" width="6.6" height="6.4" fill="none" stroke="#d03cd0" stroke-width="1.25"/><rect x="374.05" y="95.95" width="6.6" height="6.4" fill="none" stroke="#d03cd0" stroke-width="1.25"/><rect x="379.90" y="94.70" width="6.6" height="6.4" fill="none" stroke="#d03cd0" stroke-width="1.25"/><rect x="385.75" y="92.95" width="6.6" height="6.4" fill="none" stroke="#d03cd0" stroke-width="1.25"/><rect x="391.61" y="105.95" width="6.6" height="6.4" fill="none" stroke="#d03cd0" stroke-width="1.25"/><rect x="397.46" y="72.95" width="6.6" height="6.4" fill="none" stroke="#d03cd0" stroke-width="1.25"/><rect x="403.32" y="93.95" width="6.6" height="6.4" fill="none" stroke="#d03cd0" stroke-width="1.25"/><rect x="409.18" y="84.20" width="6.6" height="6.4" fill="none" stroke="#d03cd0" stroke-width="1.25"/><rect x="415.03" y="106.70" width="6.6" height="6.4" fill="none" stroke="#d03cd0" stroke-width="1.25"/><rect x="420.88" y="110.20" width="6.6" height="6.4" fill="none" stroke="#d03cd0" stroke-width="1.25"/><rect x="426.74" y="95.45" width="6.6" height="6.4" fill="none" stroke="#d03cd0" stroke-width="1.25"/><rect x="432.59" y="97.95" width="6.6" height="6.4" fill="none" stroke="#d03cd0" stroke-width="1.25"/><rect x="438.45" y="75.95" width="6.6" height="6.4" fill="none" stroke="#d03cd0" stroke-width="1.25"/><rect x="444.31" y="84.70" width="6.6" height="6.4" fill="none" stroke="#d03cd0" stroke-width="1.25"/><rect x="450.16" y="85.45" width="6.6" height="6.4" fill="none" stroke="#d03cd0" stroke-width="1.25"/></g>
<g><path d="M31.90 90.35L35.40 94.65L31.90 98.95L28.40 94.65Z" fill="none" stroke="#4040ff" stroke-width="1.1"/><path d="M37.75 82.60L41.25 86.90L37.75 91.20L34.25 86.90Z" fill="none" stroke="#4040ff" stroke-width="1.1"/><path d="M43.61 65.35L47.11 69.65L43.61 73.95L40.11 69.65Z" fill="none" stroke="#4040ff" stroke-width="1.1"/><path d="M49.47 73.85L52.97 78.15L49.47 82.45L45.97 78.15Z" fill="none" stroke="#4040ff" stroke-width="1.1"/><path d="M55.32 48.85L58.82 53.15L55.32 57.45L51.82 53.15Z" fill="none" stroke="#4040ff" stroke-width="1.1"/><path d="M61.17 48.35L64.67 52.65L61.17 56.95L57.67 52.65Z" fill="none" stroke="#4040ff" stroke-width="1.1"/><path d="M67.03 76.60L70.53 80.90L67.03 85.20L63.53 80.90Z" fill="none" stroke="#4040ff" stroke-width="1.1"/><path d="M72.88 54.85L76.38 59.15L72.88 63.45L69.38 59.15Z" fill="none" stroke="#4040ff" stroke-width="1.1"/><path d="M78.74 47.60L82.24 51.90L78.74 56.20L75.24 51.90Z" fill="none" stroke="#4040ff" stroke-width="1.1"/><path d="M84.59 62.60L88.09 66.90L84.59 71.20L81.09 66.90Z" fill="none" stroke="#4040ff" stroke-width="1.1"/><path d="M90.45 44.35L93.95 48.65L90.45 52.95L86.95 48.65Z" fill="none" stroke="#4040ff" stroke-width="1.1"/><path d="M96.31 52.85L99.81 57.15L96.31 61.45L92.81 57.15Z" fill="none" stroke="#4040ff" stroke-width="1.1"/><path d="M102.16 64.10L105.66 68.40L102.16 72.70L98.66 68.40Z" fill="none" stroke="#4040ff" stroke-width="1.1"/><path d="M108.02 54.85L111.52 59.15L108.02 63.45L104.52 59.15Z" fill="none" stroke="#4040ff" stroke-width="1.1"/><path d="M113.87 65.35L117.37 69.65L113.87 73.95L110.37 69.65Z" fill="none" stroke="#4040ff" stroke-width="1.1"/><path d="M119.72 74.35L123.22 78.65L119.72 82.95L116.22 78.65Z" fill="none" stroke="#4040ff" stroke-width="1.1"/><path d="M125.58 62.60L129.08 66.90L125.58 71.20L122.08 66.90Z" fill="none" stroke="#4040ff" stroke-width="1.1"/><path d="M131.44 68.10L134.94 72.40L131.44 76.70L127.94 72.40Z" fill="none" stroke="#4040ff" stroke-width="1.1"/><path d="M137.29 73.60L140.79 77.90L137.29 82.20L133.79 77.90Z" fill="none" stroke="#4040ff" stroke-width="1.1"/><path d="M143.15 41.85L146.65 46.15L143.15 50.45L139.65 46.15Z" fill="none" stroke="#4040ff" stroke-width="1.1"/><path d="M149.00 64.35L152.50 68.65L149.00 72.95L145.50 68.65Z" fill="none" stroke="#4040ff" stroke-width="1.1"/><path d="M154.86 27.35L158.36 31.65L154.86 35.95L151.36 31.65Z" fill="none" stroke="#4040ff" stroke-width="1.1"/><path d="M160.71 72.60L164.21 76.90L160.71 81.20L157.21 76.90Z" fill="none" stroke="#4040ff" stroke-width="1.1"/><path d="M166.57 59.85L170.07 64.15L166.57 68.45L163.07 64.15Z" fill="none" stroke="#4040ff" stroke-width="1.1"/><path d="M172.42 44.35L175.92 48.65L172.42 52.95L168.92 48.65Z" fill="none" stroke="#4040ff" stroke-width="1.1"/><path d="M178.28 27.35L181.78 31.65L178.28 35.95L174.78 31.65Z" fill="none" stroke="#4040ff" stroke-width="1.1"/><path d="M184.13 63.60L187.63 67.90L184.13 72.20L180.63 67.90Z" fill="none" stroke="#4040ff" stroke-width="1.1"/><path d="M189.99 79.85L193.49 84.15L189.99 88.45L186.49 84.15Z" fill="none" stroke="#4040ff" stroke-width="1.1"/><path d="M195.84 56.10L199.34 60.40L195.84 64.70L192.34 60.40Z" fill="none" stroke="#4040ff" stroke-width="1.1"/><path d="M201.70 87.60L205.20 91.90L201.70 96.20L198.20 91.90Z" fill="none" stroke="#4040ff" stroke-width="1.1"/><path d="M207.55 71.60L211.05 75.90L207.55 80.20L204.05 75.90Z" fill="none" stroke="#4040ff" stroke-width="1.1"/><path d="M213.41 63.60L216.91 67.90L213.41 72.20L209.91 67.90Z" fill="none" stroke="#4040ff" stroke-width="1.1"/><path d="M219.26 46.10L222.76 50.40L219.26 54.70L215.76 50.40Z" fill="none" stroke="#4040ff" stroke-width="1.1"/><path d="M225.12 46.85L228.62 51.15L225.12 55.45L221.62 51.15Z" fill="none" stroke="#4040ff" stroke-width="1.1"/><path d="M230.97 68.10L234.47 72.40L230.97 76.70L227.47 72.40Z" fill="none" stroke="#4040ff" stroke-width="1.1"/><path d="M236.83 54.10L240.33 58.40L236.83 62.70L233.33 58.40Z" fill="none" stroke="#4040ff" stroke-width="1.1"/><path d="M242.68 72.85L246.18 77.15L242.68 81.45L239.18 77.15Z" fill="none" stroke="#4040ff" stroke-width="1.1"/><path d="M248.54 57.85L252.04 62.15L248.54 66.45L245.04 62.15Z" fill="none" stroke="#4040ff" stroke-width="1.1"/><path d="M254.39 39.85L257.89 44.15L254.39 48.45L250.89 44.15Z" fill="none" stroke="#4040ff" stroke-width="1.1"/><path d="M260.25 65.35L263.75 69.65L260.25 73.95L256.75 69.65Z" fill="none" stroke="#4040ff" stroke-width="1.1"/><path d="M266.10 72.35L269.60 76.65L266.10 80.95L262.60 76.65Z" fill="none" stroke="#4040ff" stroke-width="1.1"/><path d="M271.95 76.10L275.45 80.40L271.95 84.70L268.45 80.40Z" fill="none" stroke="#4040ff" stroke-width="1.1"/><path d="M277.81 56.85L281.31 61.15L277.81 65.45L274.31 61.15Z" fill="none" stroke="#4040ff" stroke-width="1.1"/><path d="M283.67 48.10L287.17 52.40L283.67 56.70L280.17 52.40Z" fill="none" stroke="#4040ff" stroke-width="1.1"/><path d="M289.52 36.10L293.02 40.40L289.52 44.70L286.02 40.40Z" fill="none" stroke="#4040ff" stroke-width="1.1"/><path d="M295.38 66.85L298.88 71.15L295.38 75.45L291.88 71.15Z" fill="none" stroke="#4040ff" stroke-width="1.1"/><path d="M301.23 65.35L304.73 69.65L301.23 73.95L297.73 69.65Z" fill="none" stroke="#4040ff" stroke-width="1.1"/><path d="M307.08 77.35L310.58 81.65L307.08 85.95L303.58 81.65Z" fill="none" stroke="#4040ff" stroke-width="1.1"/><path d="M312.94 44.35L316.44 48.65L312.94 52.95L309.44 48.65Z" fill="none" stroke="#4040ff" stroke-width="1.1"/><path d="M318.80 69.35L322.30 73.65L318.80 77.95L315.30 73.65Z" fill="none" stroke="#4040ff" stroke-width="1.1"/><path d="M324.65 75.35L328.15 79.65L324.65 83.95L321.15 79.65Z" fill="none" stroke="#4040ff" stroke-width="1.1"/><path d="M330.50 35.35L334.00 39.65L330.50 43.95L327.00 39.65Z" fill="none" stroke="#4040ff" stroke-width="1.1"/><path d="M336.36 56.10L339.86 60.40L336.36 64.70L332.86 60.40Z" fill="none" stroke="#4040ff" stroke-width="1.1"/><path d="M342.21 56.85L345.71 61.15L342.21 65.45L338.71 61.15Z" fill="none" stroke="#4040ff" stroke-width="1.1"/><path d="M348.07 83.10L351.57 87.40L348.07 91.70L344.57 87.40Z" fill="none" stroke="#4040ff" stroke-width="1.1"/><path d="M353.93 61.60L357.43 65.90L353.93 70.20L350.43 65.90Z" fill="none" stroke="#4040ff" stroke-width="1.1"/><path d="M359.78 61.10L363.28 65.40L359.78 69.70L356.28 65.40Z" fill="none" stroke="#4040ff" stroke-width="1.1"/><path d="M365.63 83.85L369.13 88.15L365.63 92.45L362.13 88.15Z" fill="none" stroke="#4040ff" stroke-width="1.1"/><path d="M371.49 71.10L374.99 75.40L371.49 79.70L367.99 75.40Z" fill="none" stroke="#4040ff" stroke-width="1.1"/><path d="M377.35 74.85L380.85 79.15L377.35 83.45L373.85 79.15Z" fill="none" stroke="#4040ff" stroke-width="1.1"/><path d="M383.20 60.60L386.70 64.90L383.20 69.20L379.70 64.90Z" fill="none" stroke="#4040ff" stroke-width="1.1"/><path d="M389.06 82.85L392.56 87.15L389.06 91.45L385.56 87.15Z" fill="none" stroke="#4040ff" stroke-width="1.1"/><path d="M394.91 51.85L398.41 56.15L394.91 60.45L391.41 56.15Z" fill="none" stroke="#4040ff" stroke-width="1.1"/><path d="M400.76 41.85L404.26 46.15L400.76 50.45L397.26 46.15Z" fill="none" stroke="#4040ff" stroke-width="1.1"/><path d="M406.62 73.10L410.12 77.40L406.62 81.70L403.12 77.40Z" fill="none" stroke="#4040ff" stroke-width="1.1"/><path d="M412.48 68.85L415.98 73.15L412.48 77.45L408.98 73.15Z" fill="none" stroke="#4040ff" stroke-width="1.1"/><path d="M418.33 61.10L421.83 65.40L418.33 69.70L414.83 65.40Z" fill="none" stroke="#4040ff" stroke-width="1.1"/><path d="M424.19 49.85L427.69 54.15L424.19 58.45L420.69 54.15Z" fill="none" stroke="#4040ff" stroke-width="1.1"/><path d="M430.04 61.10L433.54 65.40L430.04 69.70L426.54 65.40Z" fill="none" stroke="#4040ff" stroke-width="1.1"/><path d="M435.89 62.35L439.39 66.65L435.89 70.95L432.39 66.65Z" fill="none" stroke="#4040ff" stroke-width="1.1"/><path d="M441.75 75.60L445.25 79.90L441.75 84.20L438.25 79.90Z" fill="none" stroke="#4040ff" stroke-width="1.1"/><path d="M447.61 71.85L451.11 76.15L447.61 80.45L444.11 76.15Z" fill="none" stroke="#4040ff" stroke-width="1.1"/><path d="M453.46 59.10L456.96 63.40L453.46 67.70L449.96 63.40Z" fill="none" stroke="#4040ff" stroke-width="1.1"/></g>
<path d="M31.55 248.0V243.2M31.55 11.5V15.5M90.60 248.0V243.2M90.60 11.5V15.5M149.30 248.0V243.2M149.30 11.5V15.5M207.50 248.0V243.2M207.50 11.5V15.5M265.70 248.0V243.2M265.70 11.5V15.5M323.90 248.0V243.2M323.90 11.5V15.5M383.20 248.0V243.2M383.20 11.5V15.5M441.60 248.0V243.2M441.60 11.5V15.5M27.7 218.43H32.5M459.6 218.43H454.8M27.7 188.76H32.5M459.6 188.76H454.8M27.7 159.09H32.5M459.6 159.09H454.8M27.7 129.42H32.5M459.6 129.42H454.8M27.7 99.75H32.5M459.6 99.75H454.8M27.7 70.08H32.5M459.6 70.08H454.8M27.7 40.41H32.5M459.6 40.41H454.8" stroke="#000" stroke-width="0.8" fill="none"/>
<rect x="27.7" y="11.5" width="431.90000000000003" height="236.5" fill="none" stroke="#000" stroke-width="1.0"/>
<text x="32.25" y="261.6" text-anchor="middle">0</text>
<text x="91.30" y="261.6" text-anchor="middle">50</text>
<text x="150.00" y="261.6" text-anchor="middle">100</text>
<text x="208.20" y="261.6" text-anchor="middle">150</text>
<text x="266.40" y="261.6" text-anchor="middle">200</text>
<text x="324.60" y="261.6" text-anchor="middle">250</text>
<text x="383.90" y="261.6" text-anchor="middle">300</text>
<text x="442.30" y="261.6" text-anchor="middle">350</text>
<text x="24.7" y="253.00" text-anchor="end">0</text>
<text x="24.7" y="223.33" text-anchor="end">1</text>
<text x="24.7" y="193.66" text-anchor="end">2</text>
<text x="24.7" y="163.99" text-anchor="end">3</text>
<text x="24.7" y="134.32" text-anchor="end">4</text>
<text x="24.7" y="104.65" text-anchor="end">5</text>
<text x="24.7" y="74.98" text-anchor="end">6</text>
<text x="24.7" y="45.31" text-anchor="end">7</text>
<text x="24.7" y="15.64" text-anchor="end">8</text>
<text x="242.6" y="274.3" text-anchor="middle">DOA(degrees)</text>
<text transform="translate(10.6 129) rotate(-90)" text-anchor="middle">MAEE(degrees)</text>
<rect x="464.4" y="11.5" width="130.1" height="92.9" fill="#fff" stroke="#000" stroke-width="1"/>
<circle cx="487.00" cy="20.00" r="3.4" fill="none" stroke="#2c2cff" stroke-width="1.25"/>
<text transform="translate(506.6 25.00) scale(0.964 1)" style="font-size:11.2px">Source number=2</text>
<path d="M483.60 35.40H490.40M487.00 32.10V38.70" stroke="#2a922a" stroke-width="1.0" fill="none"/>
<text transform="translate(506.6 39.80) scale(0.964 1)" style="font-size:11.2px">Source number=3</text>
<polygon points="487.00,46.60 488.15,48.85 490.40,50.00 488.15,51.15 487.00,53.40 485.85,51.15 483.60,50.00 485.85,48.85" fill="#ff2626" stroke="#ff2626" stroke-width="0.3" stroke-linejoin="round"/><circle cx="487.00" cy="50.00" r="1.7" fill="#ff1414"/>
<text transform="translate(506.6 55.10) scale(0.964 1)" style="font-size:11.2px">Source number=4</text>
<polygon points="485.00,63.10 489.00,63.10 489.00,64.90 488.60,65.40 489.00,65.90 489.00,67.70 485.00,67.70 485.00,65.90 485.40,65.40 485.00,64.90" fill="#000" stroke="#000" stroke-width="0.6" stroke-linejoin="round"/>
<text transform="translate(506.6 70.30) scale(0.964 1)" style="font-size:11.2px">Source number=5</text>
<rect x="483.70" y="76.80" width="6.6" height="6.4" fill="none" stroke="#d03cd0" stroke-width="1.25"/>
<text transform="translate(506.6 85.50) scale(0.964 1)" style="font-size:11.2px">Source number=6</text>
<path d="M487.00 91.10L490.50 95.40L487.00 99.70L483.50 95.40Z" fill="none" stroke="#4040ff" stroke-width="1.1"/>
<text transform="translate(506.6 100.50) scale(0.964 1)" style="font-size:11.2px">Source number=7</text>
</svg></body></html>
